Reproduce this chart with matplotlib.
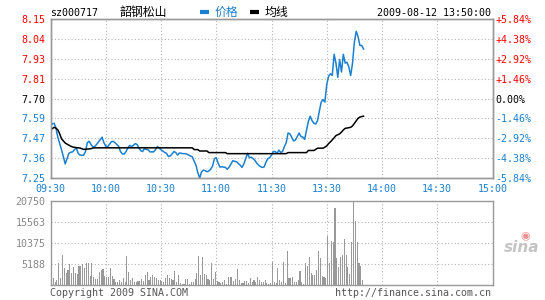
import matplotlib
matplotlib.use("Agg")
import matplotlib.pyplot as plt
from matplotlib.lines import Line2D
import numpy as np

W, H = 545, 300

# ---------------- data ----------------
code = "sz000717"
name = "韶钢松山"
stamp = "2009-08-12 13:50:00"
prev_close = 7.70
pct_levels = [-5.84, -4.38, -2.92, -1.46, 0.00, 1.46, 2.92, 4.38, 5.84]
price_labels = ["7.25", "7.36", "7.47", "7.59", "7.70", "7.81", "7.93", "8.04", "8.15"]
pct_labels = ["-5.84%", "-4.38%", "-2.92%", "-1.46%", "0.00%", "+1.46%", "+2.92%", "+4.38%", "+5.84%"]
time_labels = ["09:30", "10:00", "10:30", "11:00", "11:30", "13:30", "14:00", "14:30", "15:00"]
vol_ticks = [5188, 10375, 15563, 20750]

# one value per trading minute from 09:30
price = [
    7.552, 7.556, 7.560, 7.530, 7.480, 7.445, 7.410, 7.370, 7.330, 7.360,
    7.390, 7.396, 7.398, 7.410, 7.422, 7.390, 7.380, 7.379, 7.379, 7.400,
    7.450, 7.458, 7.440, 7.426, 7.428, 7.440, 7.453, 7.467, 7.481, 7.450,
    7.430, 7.428, 7.440, 7.455, 7.458, 7.450, 7.440, 7.430, 7.400, 7.387,
    7.385, 7.400, 7.420, 7.435, 7.428, 7.435, 7.445, 7.440, 7.420, 7.405,
    7.400, 7.416, 7.412, 7.410, 7.398, 7.398, 7.398, 7.410, 7.428, 7.420,
    7.410, 7.403, 7.395, 7.390, 7.372, 7.375, 7.386, 7.400, 7.395, 7.380,
    7.392, 7.390, 7.388, 7.388, 7.386, 7.380, 7.375, 7.370, 7.345, 7.323,
    7.280, 7.250, 7.285, 7.295, 7.292, 7.286, 7.290, 7.300, 7.318, 7.360,
    7.365, 7.335, 7.312, 7.314, 7.312, 7.310, 7.300, 7.312, 7.330, 7.348,
    7.345, 7.342, 7.332, 7.323, 7.310, 7.330, 7.360, 7.390, 7.365, 7.368,
    7.360, 7.350, 7.334, 7.323, 7.315, 7.310, 7.313, 7.340, 7.360, 7.365,
    7.380, 7.400, 7.400, 7.390, 7.408, 7.395, 7.400, 7.428, 7.450, 7.505,
    7.500, 7.480, 7.460, 7.465, 7.485, 7.505, 7.485, 7.482, 7.469, 7.520,
    7.570, 7.600, 7.575, 7.560, 7.556, 7.575, 7.630, 7.680, 7.694, 7.680,
    7.780, 7.826, 7.840, 7.831, 7.950, 7.900, 7.820, 7.920, 7.850, 7.950,
    7.900, 7.905, 7.878, 7.830, 7.900, 8.020, 8.080, 8.050, 8.000, 8.000,
    7.980,
]

avg_price = [
    7.522, 7.530, 7.537, 7.532, 7.522, 7.500, 7.472, 7.460, 7.448, 7.442,
    7.436, 7.430, 7.426, 7.424, 7.422, 7.421, 7.420, 7.416, 7.412, 7.413,
    7.414, 7.415, 7.416, 7.420, 7.421, 7.421, 7.421, 7.421, 7.421, 7.421,
    7.421, 7.421, 7.421, 7.421, 7.421, 7.421, 7.421, 7.421, 7.421, 7.421,
    7.421, 7.421, 7.421, 7.421, 7.421, 7.421, 7.421, 7.421, 7.421, 7.421,
    7.421, 7.421, 7.421, 7.421, 7.421, 7.421, 7.421, 7.421, 7.421, 7.421,
    7.421, 7.421, 7.421, 7.421, 7.421, 7.421, 7.421, 7.421, 7.421, 7.421,
    7.421, 7.421, 7.421, 7.421, 7.421, 7.421, 7.421, 7.421, 7.411, 7.411,
    7.411, 7.403, 7.403, 7.403, 7.403, 7.403, 7.394, 7.394, 7.394, 7.394,
    7.394, 7.394, 7.394, 7.394, 7.394, 7.394, 7.388, 7.388, 7.388, 7.388,
    7.388, 7.388, 7.388, 7.388, 7.388, 7.388, 7.388, 7.388, 7.388, 7.388,
    7.388, 7.388, 7.388, 7.388, 7.388, 7.388, 7.388, 7.388, 7.388, 7.388,
    7.388, 7.388, 7.388, 7.388, 7.388, 7.388, 7.388, 7.388, 7.388, 7.394,
    7.394, 7.394, 7.394, 7.394, 7.394, 7.394, 7.394, 7.394, 7.394, 7.394,
    7.406, 7.406, 7.406, 7.406, 7.412, 7.419, 7.419, 7.419, 7.419, 7.425,
    7.432, 7.445, 7.455, 7.466, 7.478, 7.490, 7.495, 7.500, 7.510, 7.522,
    7.531, 7.533, 7.535, 7.537, 7.545, 7.559, 7.572, 7.588, 7.595, 7.598,
    7.600,
]

volume = [
    3700, 1800, 660, 1230, 5350, 1650, 7400, 4280, 2880, 3700,
    5180, 2880, 4530, 2880, 2720, 4770, 4770, 5180, 4280, 5350,
    5350, 2220, 5350, 2060, 1480, 1480, 3290, 3700, 3950, 2220,
    2060, 2060, 4280, 2220, 1480, 660, 820, 1230, 660, 1650,
    660, 7160, 3130, 1230, 1650, 660, 660, 990, 990, 1400,
    990, 2470, 3130, 1230, 2060, 2470, 2060, 1650, 1230, 1230,
    990, 660, 1650, 2470, 1650, 1480, 1230, 3460, 660, 2470,
    490, 330, 160, 1480, 1480, 330, 820, 660, 1480, 2880,
    7160, 2470, 7000, 2700, 2470, 1480, 1230, 5350, 1480, 3130,
    990, 660, 410, 660, 1230, 160, 2060, 2060, 2060, 990,
    1480, 3950, 1230, 410, 410, 990, 990, 410, 1650, 660,
    1230, 660, 2060, 1230, 660, 660, 1230, 410, 160, 410,
    5760, 660, 410, 4280, 1230, 660, 5760, 410, 8400, 1810,
    1810, 2060, 660, 660, 1230, 3460, 660, 160, 5350, 4770,
    7000, 2880, 2470, 2470, 3700, 8400, 6750, 2300, 2060, 1810,
    12180, 5350, 10860, 10700, 19090, 6750, 4430, 6900, 7400, 11360,
    7400, 4530, 2630, 10700, 20750, 15800, 10700, 5400, 4750, 1150,
]

# ---------------- style ----------------
BLUE = "#1a80cf"
RED = "#ff0000"
GRAY = "#999999"
GRID = "#b4b4b4"
MONO = "DejaVu Sans Mono"
CJK = ["Noto Sans CJK SC", "DejaVu Sans"]
FS = 7.2

fig = plt.figure(figsize=(W / 100, H / 100), dpi=100)
fig.patch.set_facecolor("white")


def fx(x):
    return x / W


def fy(y):
    return 1 - y / H


L, R = 50.5, 492.5
P_T, P_B = 19.0, 178.0
V_T, V_B = 201.0, 285.0

axp = fig.add_axes([fx(L), fy(P_B), fx(R) - fx(L), fy(P_T) - fy(P_B)])
axv = fig.add_axes([fx(L), fy(V_B), fx(R) - fx(L), fy(V_T) - fy(V_B)])

price_ticks = [prev_close * (1 + p / 100) for p in pct_levels]
minutes = np.arange(len(price))
vmin = np.arange(len(volume))
x_ticks = np.arange(0, 241, 30)

# price panel
axp.plot(minutes, price, color=BLUE, lw=1.1, zorder=3)
axp.plot(np.arange(len(avg_price)), avg_price, color="black", lw=1.1, zorder=3)
axp.set_xlim(0, 240)
axp.set_ylim(price_ticks[0], price_ticks[-1])
axp.set_yticks(price_ticks)
axp.set_yticklabels(price_labels)
axp.set_xticks(x_ticks)
axp.set_xticklabels(time_labels)
for v in price_ticks[1:-1]:
    axp.axhline(v, color=GRID, lw=0.8, ls=(0, (1, 2)), zorder=1)
for v in x_ticks[1:-1]:
    axp.axvline(v, color=GRID, lw=0.8, ls=(0, (1, 2)), zorder=1)
axp.tick_params(axis="both", length=0, labelsize=FS)
axp.tick_params(axis="y", pad=3.5)
axp.tick_params(axis="x", pad=4.0, labelcolor=BLUE)
for lab in axp.get_yticklabels() + axp.get_xticklabels():
    lab.set_fontfamily(MONO)
for i, lab in enumerate(axp.get_yticklabels()):
    lab.set_color(RED if pct_levels[i] > 0 else ("black" if pct_levels[i] == 0 else BLUE))

axr = axp.twinx()
axr.set_ylim(axp.get_ylim())
axr.set_yticks(price_ticks)
axr.set_yticklabels(pct_labels)
axr.tick_params(axis="y", length=0, labelsize=FS, pad=2.0)
for i, lab in enumerate(axr.get_yticklabels()):
    lab.set_fontfamily(MONO)
    lab.set_color(RED if pct_levels[i] > 0 else ("black" if pct_levels[i] == 0 else BLUE))

for a in (axp, axr, axv):
    for s in a.spines.values():
        s.set_color(GRAY)
        s.set_linewidth(1.0)

# volume panel
axv.bar(vmin + 0.5, volume, width=0.6, color=GRAY, zorder=3)
axv.set_xlim(0, 240)
axv.set_ylim(0, vol_ticks[-1])
axv.set_yticks(vol_ticks)
axv.set_yticklabels([str(v) for v in vol_ticks])
axv.set_xticks([])
for v in vol_ticks[:-1]:
    axv.axhline(v, color=GRID, lw=0.8, ls=(0, (1, 2)), zorder=1)
for v in x_ticks[1:-1]:
    axv.axvline(v, color=GRID, lw=0.8, ls=(0, (1, 2)), zorder=1)
axv.tick_params(axis="y", length=0, labelsize=FS, pad=3.5, labelcolor="#888888")
for lab in axv.get_yticklabels():
    lab.set_fontfamily(MONO)

# header
HY = 12.5
fig.text(fx(50), fy(HY), code, fontsize=FS, family=MONO, color="black", va="center", ha="left")
fig.text(fx(120), fy(HY), name, fontsize=8.6, family=CJK, color="black", va="center", ha="left")
fig.add_artist(Line2D([fx(200), fx(208.5)], [fy(11.5), fy(11.5)], color=BLUE, lw=3,
                      transform=fig.transFigure, solid_capstyle="butt"))
fig.text(fx(215), fy(HY), "价格", fontsize=8.6, family=CJK, color=BLUE, va="center", ha="left")
fig.add_artist(Line2D([fx(250), fx(258.5)], [fy(11.5), fy(11.5)], color="black", lw=3,
                      transform=fig.transFigure, solid_capstyle="butt"))
fig.text(fx(265), fy(HY), "均线", fontsize=8.6, family=CJK, color="black", va="center", ha="left")
fig.text(fx(491), fy(HY), stamp, fontsize=FS, family=MONO, color="black", va="center", ha="right")

# footer
fig.text(fx(50), fy(293), "Copyright 2009 SINA.COM", fontsize=FS, family=MONO,
         color="#555555", va="center", ha="left")
fig.text(fx(491), fy(293), "http://finance.sina.com.cn", fontsize=FS, family=MONO,
         color="#555555", va="center", ha="right")
fig.text(fx(522), fy(248), "sina", fontsize=11, family="DejaVu Sans", style="italic",
         weight="bold", color="#c4c4c4", va="center", ha="center")
fig.text(fx(525), fy(236), "◉", fontsize=8, family="DejaVu Sans", color="#f09090",
         va="center", ha="center")

fig.savefig("out.png", dpi=100)
